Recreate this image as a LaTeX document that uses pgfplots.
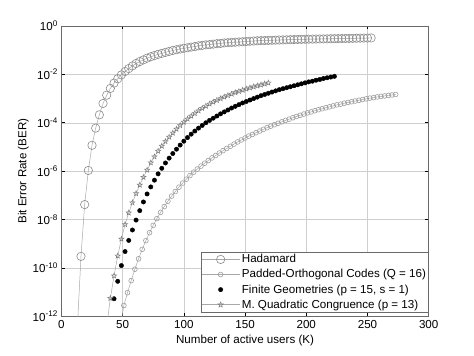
\documentclass[border=0pt]{standalone}
\usepackage{fontspec}
\setmainfont{Liberation Sans}
\usepackage{pgfplots}
\usepackage{pgfplotstable}
\pgfplotsset{compat=1.18}

\definecolor{gridgray}{HTML}{CFCFCF}
\definecolor{axisgray}{HTML}{6A6A6A}
\definecolor{hadgray}{HTML}{8C8C8C}
\definecolor{padgray}{HTML}{9E9E9E}
\definecolor{mqcgray}{HTML}{7A7A7A}
\definecolor{linegray}{HTML}{A8A8A8}

\pgfdeclareplotmark{pentagram}{%
  \pgfpathmoveto{\pgfpointpolar{90}{\pgfplotmarksize}}%
  \pgfpathlineto{\pgfpointpolar{126}{0.42\pgfplotmarksize}}%
  \pgfpathlineto{\pgfpointpolar{162}{\pgfplotmarksize}}%
  \pgfpathlineto{\pgfpointpolar{198}{0.42\pgfplotmarksize}}%
  \pgfpathlineto{\pgfpointpolar{234}{\pgfplotmarksize}}%
  \pgfpathlineto{\pgfpointpolar{270}{0.42\pgfplotmarksize}}%
  \pgfpathlineto{\pgfpointpolar{306}{\pgfplotmarksize}}%
  \pgfpathlineto{\pgfpointpolar{342}{0.42\pgfplotmarksize}}%
  \pgfpathlineto{\pgfpointpolar{18}{\pgfplotmarksize}}%
  \pgfpathlineto{\pgfpointpolar{54}{0.42\pgfplotmarksize}}%
  \pgfpathclose\pgfusepathqstroke}

% K, log10(BER)
\pgfplotstableread{
K lg
13 -12.5
16 -9.52
19 -7.38
22 -5.97
25 -4.93
28 -4.22
31 -3.67
34 -3.20
37 -2.86
40 -2.58
43 -2.36
46 -2.18
49 -2.02
52 -1.88
55 -1.76
58 -1.65
61 -1.55
64 -1.47
67 -1.40
70 -1.33
73 -1.27
76 -1.22
79 -1.17
82 -1.13
85 -1.09
88 -1.05
91 -1.01
94 -0.98
97 -0.95
100 -0.92
103 -0.90
106 -0.87
109 -0.85
112 -0.82
115 -0.80
118 -0.78
121 -0.77
124 -0.75
127 -0.73
130 -0.72
133 -0.70
136 -0.69
139 -0.68
142 -0.67
145 -0.66
148 -0.65
151 -0.64
154 -0.63
157 -0.62
160 -0.61
163 -0.605
166 -0.60
169 -0.595
172 -0.59
175 -0.585
178 -0.58
181 -0.575
184 -0.57
187 -0.565
190 -0.56
193 -0.556
196 -0.552
199 -0.548
202 -0.545
205 -0.542
208 -0.539
211 -0.536
214 -0.533
217 -0.530
220 -0.527
223 -0.524
226 -0.521
229 -0.518
232 -0.515
235 -0.512
238 -0.509
241 -0.506
244 -0.503
247 -0.500
250 -0.497
253 -0.494
}\hadamard

\pgfplotstableread{
K lg
48 -12.5
51 -11.55
54 -11.02
57 -10.52
60 -10.05
63 -9.62
66 -9.23
69 -8.87
72 -8.54
75 -8.24
78 -7.96
81 -7.70
84 -7.46
87 -7.24
90 -7.03
93 -6.84
96 -6.66
99 -6.49
102 -6.33
105 -6.18
108 -6.04
111 -5.91
114 -5.79
117 -5.67
120 -5.56
123 -5.45
126 -5.35
129 -5.25
132 -5.15
135 -5.06
138 -4.97
141 -4.88
144 -4.79
147 -4.71
150 -4.63
153 -4.55
156 -4.48
159 -4.41
162 -4.34
165 -4.27
168 -4.20
171 -4.14
174 -4.08
177 -4.02
180 -3.96
183 -3.90
186 -3.85
189 -3.79
192 -3.74
195 -3.69
198 -3.64
201 -3.59
204 -3.55
207 -3.50
210 -3.46
213 -3.42
216 -3.38
219 -3.34
222 -3.30
225 -3.26
228 -3.23
231 -3.19
234 -3.16
237 -3.13
240 -3.10
243 -3.07
246 -3.04
249 -3.01
252 -2.98
255 -2.96
258 -2.93
261 -2.91
264 -2.89
267 -2.87
270 -2.85
273 -2.83
}\padded

\pgfplotstableread{
K lg
43 -11.27
46 -10.55
49 -9.90
52 -9.32
55 -8.86
58 -8.43
61 -8.02
64 -7.63
67 -7.27
70 -6.94
73 -6.65
76 -6.37
79 -6.11
82 -5.88
85 -5.66
88 -5.46
91 -5.27
94 -5.09
97 -4.92
100 -4.76
103 -4.61
106 -4.47
109 -4.34
112 -4.22
115 -4.11
118 -4.00
121 -3.90
124 -3.81
127 -3.72
130 -3.63
133 -3.55
136 -3.47
139 -3.39
142 -3.32
145 -3.25
148 -3.18
151 -3.12
154 -3.06
157 -3.00
160 -2.94
163 -2.88
166 -2.83
169 -2.78
172 -2.73
175 -2.68
178 -2.63
181 -2.59
184 -2.55
187 -2.51
190 -2.47
193 -2.43
196 -2.39
199 -2.35
202 -2.31
205 -2.28
208 -2.24
211 -2.21
214 -2.17
217 -2.14
220 -2.11
223 -2.08
}\finitegeo

\pgfplotstableread{
K lg
37 -12.4
40 -11.25
43 -10.32
46 -9.50
49 -8.80
52 -8.20
55 -7.72
58 -7.30
61 -6.92
64 -6.57
67 -6.25
70 -5.95
73 -5.65
76 -5.40
79 -5.17
82 -4.96
85 -4.77
88 -4.59
91 -4.42
94 -4.26
97 -4.11
100 -3.97
103 -3.84
106 -3.72
109 -3.61
112 -3.50
115 -3.40
118 -3.31
121 -3.22
124 -3.14
127 -3.07
130 -3.00
133 -2.93
136 -2.87
139 -2.81
142 -2.75
145 -2.70
148 -2.65
151 -2.60
154 -2.55
157 -2.51
160 -2.47
163 -2.43
166 -2.39
169 -2.35
}\mqc

\begin{document}
\begin{tikzpicture}
\useasboundingbox (-61.4pt,-39pt) rectangle (412.6pt,316.4pt);
\begin{axis}[
  scale only axis,
  width=367.3pt, height=290.4pt,
  xmin=0, xmax=300, ymin=-12, ymax=0,
  xtick={0,50,...,300},
  ytick={-12,-10,...,0},
  yticklabels={10\textsuperscript{-12},10\textsuperscript{-10},10\textsuperscript{-8},10\textsuperscript{-6},10\textsuperscript{-4},10\textsuperscript{-2},10\textsuperscript{0}},
  grid=major,
  major grid style={color=gridgray, line width=0.5pt},
  tick align=inside,
  xtick pos=both, ytick pos=both,
  major tick length=3.5pt,
  axis line style={color=axisgray, line width=0.6pt},
  tick style={color=black, line width=0.6pt},
  ticklabel style={font=\fontsize{11.6}{13.5}\selectfont},
  /pgf/number format/assume math mode=true,
  xlabel={Number of active users (K)},
  ylabel={Bit Error Rate (BER)},
  label style={font=\fontsize{11.6}{13.5}\selectfont},
  xlabel style={at={(axis description cs:0.5,-0.0826)}, anchor=center},
  ylabel style={at={(axis description cs:-0.1035,0.5)}, anchor=center},
  legend style={at={(axis description cs:1,0)}, anchor=south east, yshift=4pt,
    font=\fontsize{11.6}{13.5}\selectfont, draw=axisgray, fill=white,
    inner xsep=0.5pt, inner ysep=0.5pt, row sep=1.2pt,
    nodes={inner sep=2pt}},
  legend cell align=left,
  legend image code/.code={%
    \draw[mark repeat=2, mark phase=2, #1] plot coordinates {(0pt,0pt) (19pt,0pt) (38pt,0pt)};},
]
\addplot[color=linegray, line width=0.5pt, mark=o, mark size=4.2pt,
  mark options={draw=hadgray, line width=0.6pt}] table[x=K, y=lg] {\hadamard};
\addlegendentry{Hadamard}
\addplot[color=linegray, line width=0.5pt, mark=o, mark size=2.4pt,
  mark options={draw=padgray, line width=0.6pt}] table[x=K, y=lg] {\padded};
\addlegendentry{Padded-Orthogonal Codes (Q = 16)}
\addplot[only marks, mark=*, mark size=2.2pt, black] table[x=K, y=lg] {\finitegeo};
\addlegendentry{Finite Geometries (p = 15, s = 1)}
\addplot[color=linegray, line width=0.5pt, mark=pentagram, mark size=2.7pt,
  mark options={draw=mqcgray, line width=0.5pt}] table[x=K, y=lg] {\mqc};
\addlegendentry{M. Quadratic Congruence (p = 13)}
\end{axis}
\end{tikzpicture}
\end{document}
